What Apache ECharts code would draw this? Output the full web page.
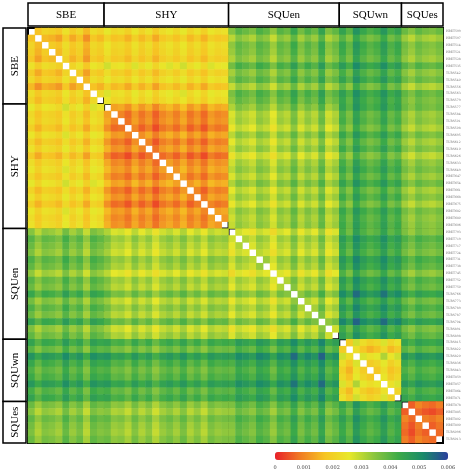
<!DOCTYPE html>
<html>
<head>
<meta charset="utf-8">
<script src="https://cdn.jsdelivr.net/npm/echarts@6/dist/echarts.min.js"></script>
<style>html,body{margin:0;padding:0;background:#fff}#main{width:474px;height:474px}</style>
</head>
<body>
<div id="main"></div>
<script>
// groups and sizes
var groups = ['SBE', 'SHY', 'SQUen', 'SQUwn', 'SQUes'];
var groupSizes = [11, 18, 16, 9, 6];
var blockMean = [
  [0.0018, 0.0021, 0.0036, 0.0041, 0.0035],
  [0.0021, 0.0011, 0.0031, 0.0040, 0.0034],
  [0.0036, 0.0031, 0.0029, 0.0043, 0.0038],
  [0.0041, 0.0040, 0.0043, 0.0020, 0.0042],
  [0.0035, 0.0034, 0.0038, 0.0042, 0.0007]
];
// per sample offsets (lighter / darker stripes)
var sampleOffset = [
  0.0002, -0.0003, 0.0001, 0.0000, -0.0002, 0.0004, -0.0001, 0.0002, -0.0004, 0.0003, 0.0001,
  0.0003, -0.0001, 0.0000, -0.0003, 0.0002, -0.0002, 0.0001, -0.0004, 0.0000, 0.0002, -0.0001, 0.0003, -0.0002, 0.0001, -0.0003, 0.0002, 0.0000, 0.0001,
  -0.0003, 0.0002, 0.0000, -0.0002, 0.0003, 0.0001, -0.0004, 0.0002, 0.0000, 0.0006, -0.0001, 0.0003, 0.0000, 0.0007, -0.0002, 0.0001,
  0.0002, -0.0003, 0.0006, 0.0001, -0.0002, 0.0000, 0.0005, -0.0001, 0.0002,
  0.0001, -0.0002, 0.0002, 0.0000, -0.0001, 0.0001
];
var colourStops = ['#e8202a', '#f07a24', '#f6c423', '#e8e82a', '#8cc63e', '#3caa48', '#1a8a6a', '#2a3f9c'];
var ticks = ['0', '0.001', '0.002', '0.003', '0.004', '0.005', '0.006'];

var samples = [], sampleGroup = [];
var prefixes = ['HBET', 'TURS'];
groupSizes.forEach(function (n, g) {
  for (var i = 0; i < n; i++) {
    samples.push(prefixes[(g + (i > n / 2 ? 1 : 0)) % 2] + (500 + samples.length * 7));
    sampleGroup.push(g);
  }
});
var N = samples.length;
var data = [];
for (var i = 0; i < N; i++) {
  for (var j = 0; j < N; j++) {
    if (i == j) { data.push([j, i, '-']); continue; }
    var v = blockMean[sampleGroup[i]][sampleGroup[j]] + sampleOffset[i] + sampleOffset[j];
    v = Math.max(0.0001, Math.min(0.0059, v));
    data.push([j, i, v]);
  }
}

var L = 28, T = 28, W = 415, H = 415;
var chart = echarts.init(document.getElementById('main'));
chart.setOption({
  animation: false,
  grid: { left: L, top: T, width: W, height: H },
  xAxis: { type: 'category', data: samples, axisLine: { show: false }, axisTick: { show: false }, axisLabel: { show: false }, splitLine: { show: false } },
  yAxis: { type: 'category', data: samples, inverse: true, position: 'right',
    axisLine: { show: false }, axisTick: { show: false },
    axisLabel: { fontSize: 3, color: '#777', margin: 3, interval: 0, fontFamily: 'DejaVu Serif' } },
  visualMap: { type: 'continuous', min: 0, max: 0.006, orient: 'horizontal', left: 275, top: 452, padding: 0,
    itemWidth: 8, itemHeight: 173, text: ['', ''], showLabel: false, calculable: false,
    inRange: { color: colourStops } },
  series: [{ type: 'heatmap', data: data, itemStyle: { borderWidth: 0 } }]
});

var els = [];
var start = 0;
ticks.forEach(function (t, k) {
  els.push({ type: 'text', x: 275 + k * 173 / 6, y: 465, style: { text: t, fontSize: 5, fill: '#444', align: 'center', fontFamily: 'DejaVu Serif' } });
});
var half = W / N / 2;
groupSizes.forEach(function (n, g) {
  var a = chart.convertToPixel({ gridIndex: 0 }, [start, start]);
  var b = chart.convertToPixel({ gridIndex: 0 }, [start + n - 1, start + n - 1]);
  var x0 = a[0] - half, x1 = b[0] + half, y0 = a[1] - half, y1 = b[1] + half;
  els.push({ type: 'rect', shape: { x: x0, y: 3, width: x1 - x0, height: T - 5 }, style: { fill: '#fff', stroke: '#000', lineWidth: 1.5 } });
  els.push({ type: 'text', x: (x0 + x1) / 2, y: 15, style: { text: groups[g], fontSize: 11, fontFamily: 'Liberation Serif', fill: '#000', align: 'center', verticalAlign: 'middle' } });
  els.push({ type: 'rect', shape: { x: 3, y: y0, width: L - 5, height: y1 - y0 }, style: { fill: '#fff', stroke: '#000', lineWidth: 1.5 } });
  els.push({ type: 'text', x: 15, y: (y0 + y1) / 2, rotation: Math.PI / 2, style: { text: groups[g], fontSize: 11, fontFamily: 'Liberation Serif', fill: '#000', align: 'center', verticalAlign: 'middle' } });
  els.push({ type: 'line', shape: { x1: x1, y1: T, x2: x1, y2: T + H }, style: { stroke: '#000', lineWidth: 2 } });
  els.push({ type: 'line', shape: { x1: L, y1: y1, x2: L + W, y2: y1 }, style: { stroke: '#000', lineWidth: 2 } });
  start += n;
});
els.push({ type: 'rect', shape: { x: L, y: T, width: W, height: H }, style: { fill: 'none', stroke: '#000', lineWidth: 2 } });
chart.setOption({ graphic: { elements: els } });
</script>
</body>
</html>
